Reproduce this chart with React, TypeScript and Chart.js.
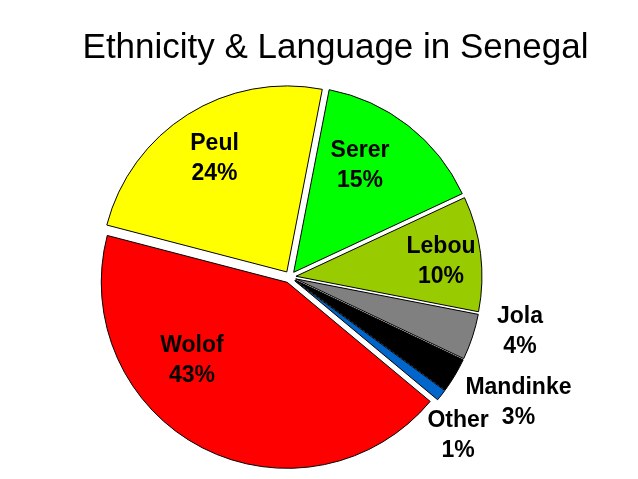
import React, { useEffect, useRef } from "react";
import { Chart, registerables } from "chart.js";

Chart.register(...registerables);

const categories = ["Serer", "Lebou", "Jola", "Mandinke", "Other", "Wolof", "Peul"];
const percentages = [15, 10, 4, 3, 1, 43, 24];
const sliceColors = ["#00FF00", "#99CC00", "#808080", "#000000", "#0066CC", "#FF0000", "#FFFF00"];
const titleText = "Ethnicity & Language in Senegal";

// explode distance (px) of each slice along its mid-angle
const explode = [6, 6, 6, 6, 6, 6, 6];
// label placement: angle shift (deg) from slice mid-angle, distance as fraction of radius
const labelAngleShift = [-5.9, 1.3, -4.8, -1.9, 5.3, 22.4, -0.3];
const labelDistance = [0.708, 0.816, 1.271, 1.403, 1.242, 0.692, 0.755];

const FONT = '"Liberation Sans", Arial, Helvetica, sans-serif';

const explodePlugin = {
  id: "explodeSlices",
  afterDatasetsUpdate(chart: any) {
    const meta = chart.getDatasetMeta(0);
    meta.data.forEach((arc: any, i: number) => {
      const mid = (arc.startAngle + arc.endAngle) / 2;
      arc.$cx = arc.x;
      arc.$cy = arc.y;
      arc.x = arc.$cx + Math.cos(mid) * explode[i];
      arc.y = arc.$cy + Math.sin(mid) * explode[i];
    });
  },
};

const labelPlugin = {
  id: "sliceLabels",
  afterDatasetsDraw(chart: any) {
    const ctx = chart.ctx;
    const meta = chart.getDatasetMeta(0);
    ctx.save();
    ctx.fillStyle = "#000";
    ctx.font = `bold 23px ${FONT}`;
    ctx.textAlign = "center";
    ctx.textBaseline = "middle";
    meta.data.forEach((arc: any, i: number) => {
      const cx = arc.$cx ?? arc.x;
      const cy = arc.$cy ?? arc.y;
      const mid = (arc.startAngle + arc.endAngle) / 2 + (labelAngleShift[i] * Math.PI) / 180;
      const d = arc.outerRadius * labelDistance[i];
      const lx = cx + Math.cos(mid) * d;
      const ly = cy + Math.sin(mid) * d;
      ctx.fillText(categories[i], lx, ly - 15);
      ctx.fillText(`${percentages[i]}%`, lx, ly + 15);
    });
    ctx.restore();
  },
};

const titlePlugin = {
  id: "customTitle",
  afterDraw(chart: any) {
    const ctx = chart.ctx;
    ctx.save();
    ctx.fillStyle = "#000";
    ctx.font = `35px ${FONT}`;
    ctx.textAlign = "center";
    ctx.textBaseline = "alphabetic";
    ctx.fillText(titleText, chart.width / 2 + 16.5, 50);
    ctx.restore();
  },
};

export default function App() {
  const ref = useRef<HTMLCanvasElement | null>(null);
  useEffect(() => {
    if (!ref.current) return;
    const chart = new Chart(ref.current, {
      type: "pie",
      data: {
        labels: categories,
        datasets: [
          {
            data: percentages,
            backgroundColor: sliceColors,
            borderColor: "#000000",
            borderWidth: 1,
            offset: 0,
            hoverOffset: 0,
          },
        ],
      },
      options: {
        responsive: false,
        animation: false,
        rotation: 11,
        radius: 186,
        layout: { padding: { left: 0, right: 58, top: 75, bottom: 0 } },
        plugins: {
          legend: { display: false },
          title: { display: false },
          tooltip: { enabled: false },
        },
        events: [],
      },
      plugins: [explodePlugin, labelPlugin, titlePlugin],
    });
    return () => chart.destroy();
  }, []);
  return (
    <div style={{ width: 622, height: 463 }}>
      <canvas ref={ref} width={622} height={463} style={{ display: "block" }} />
    </div>
  );
}
